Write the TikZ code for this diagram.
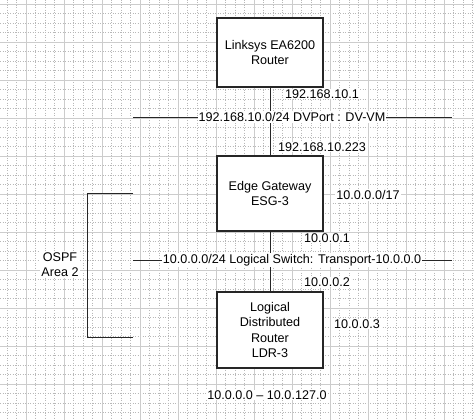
\documentclass[tikz,border=0pt]{standalone}
\usepackage{fontspec}
\setmainfont{Liberation Sans}
\usetikzlibrary{positioning}

\tikzset{
  minorgrid/.style={draw=black!28,dotted,line width=0.5pt},
  majorgrid/.style={draw=black!20,line width=0.6pt},
  devbox/.style={draw=black!85,fill=white,line width=1.1pt,minimum width=106pt,align=center,inner sep=0pt,font=\fontsize{12.6}{15.3}\selectfont},
  iplabel/.style={fill=white,inner sep=1pt,align=center,font=\fontsize{12.6}{15.3}\selectfont},
  wire/.style={draw=black!85,line width=0.8pt}
}

\begin{document}
\begin{tikzpicture}[x=1pt,y=1pt,yscale=-1,xscale=1]
    \useasboundingbox (0,0) rectangle (474,420);
    \fill[white] (0,0) rectangle (474,420);
    % background grid
    \foreach \k in {0,...,49} \draw[minorgrid] ({7+9.5*\k},0) -- ({7+9.5*\k},420);
    \foreach \k in {0,...,43} \draw[minorgrid] (0,{4+9.5*\k}) -- (474,{4+9.5*\k});
    \foreach \k in {0,...,11} \draw[majorgrid] ({26+38*\k},0) -- ({26+38*\k},420);
    \foreach \k in {0,...,10} \draw[majorgrid] (0,{4+38*\k}) -- (474,{4+38*\k});

    % devices
    \node[devbox,minimum height=69pt] (router) at (270,52.5) {Linksys EA6200\\Router};
    \node[devbox,minimum height=75pt] (esg) at (270,193.5) {Edge Gateway\\ESG-3};
    \node[devbox,minimum height=76pt] (ldr) at (270,330) {Logical\\Distributed\\Router\\LDR-3};

    % uplinks
    \draw[wire] (router) -- (esg);
    \draw[wire] (esg) -- (ldr);

    % networks
    \coordinate (dvL) at (133,117);
    \coordinate (dvR) at (452,117);
    \coordinate (lsL) at (133,260);
    \coordinate (lsR) at (452,260);
    \draw[wire] (dvL) -- (dvR);
    \draw[wire] (lsL) -- (lsR);
    \node[iplabel] (dvnet) at (292,117) {192.168.10.0/24 DVPort : DV-VM};
    \node[iplabel] (lsnet) at (292,260) {10.0.0.0/24 Logical Switch: Transport-10.0.0.0};

    % interface addresses
    \node[iplabel] (rtrip) at (322,94) {192.168.10.1};
    \node[iplabel] (esgup) at (322,147) {192.168.10.223};
    \node[iplabel] (esgnet) at (368,195) {10.0.0.0/17};
    \node[iplabel] (esgdn) at (327,238) {10.0.0.1};
    \node[iplabel] (ldrup) at (327,282) {10.0.0.2};
    \node[iplabel] (ldrip) at (357,324) {10.0.0.3};
    \node[iplabel] (range) at (267,395) {10.0.0.0 -- 10.0.127.0};

    % OSPF area bracket
    \coordinate (brTop) at (133,193);
    \coordinate (brBot) at (133,337);
    \draw[wire] (brTop) -- (87,193) -- (87,337) -- (brBot);
    \node[iplabel] (ospf) at (60,264.5) {OSPF\\Area 2};
\end{tikzpicture}
\end{document}
